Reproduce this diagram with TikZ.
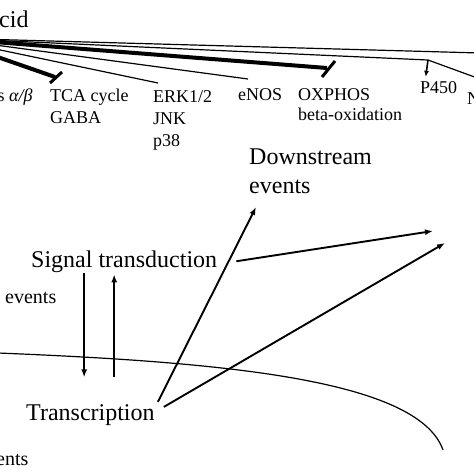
\documentclass[tikz,border=0pt]{standalone}
\usepackage{fontspec}
\setmainfont{Liberation Serif}
\usetikzlibrary{arrows.meta,calc}
\tikzset{
  lbl/.style={inner sep=0pt, anchor=base west, align=left, font=\fontsize{18}{22}\selectfont},
  big/.style={inner sep=0pt, anchor=base west, align=left, font=\fontsize{24}{29}\selectfont},
  mid/.style={inner sep=0pt, anchor=base west, font=\fontsize{20}{24}\selectfont},
  thinln/.style={line width=1.2pt},
  thickln/.style={line width=4pt},
  bar/.style={line width=3pt},
  arr/.style={line width=1.9pt, -{Latex[length=8pt,width=6pt]}},
}
\begin{document}
\begin{tikzpicture}[x=1pt,y=-1pt]
\useasboundingbox (0,0) rectangle (474,474);
\clip (0,0) rectangle (474,474);
% top row (base of a multi-line node is its last line)
\node [big] (acid) at (-1,27) {cid};
\coordinate (src) at (-57,38);
\node [lbl] (alpha) at (-2.5,101) {s {\itshape α/β}};
\node [lbl] (tca) at (50,123) {TCA cycle\\GABA};
\node [lbl] (erk) at (153,146) {ERK1/2\\JNK\\p38};
\node [lbl] (enos) at (238,100) {eNOS};
\node [lbl, font=\fontsize{18}{20}\selectfont] (ox) at (298,120) {OXPHOS\\beta-oxidation};
\node [lbl] (p450) at (420,93) {P450};
\node [lbl] (nn) at (467,104) {N};
\coordinate (topEnd) at (480,53);
\coordinate (kink) at (428,60);
\coordinate (nEnd) at (480,79);
\coordinate (oxEnd) at (327,68);
\coordinate (enosEnd) at (248,79);
\coordinate (erkEnd) at (158,83);
\coordinate (tcaEnd) at (55,77);
\draw [thinln] (src) -- (topEnd);
\draw [thinln] (src) -- (kink) -- (nEnd);
\draw [line width=1.6pt, -{Latex[length=6pt,width=5pt]}] (kink) -- ([shift={(-13,-4)}]p450.north);
\draw [thickln] (src) -- (oxEnd);
\draw [bar] ($(oxEnd)+(-5,9)$) -- ($(oxEnd)+(8,-7)$);
\draw [thinln] (src) -- (enosEnd);
\draw [thinln] (src) -- (erkEnd);
\draw [thickln] (src) -- (tcaEnd);
\draw [bar] ($(tcaEnd)+(-5,6)$) -- ($(tcaEnd)+(7,-5)$);
% lower part
\node [big] (sig) at (31,267) {Signal transduction};
\node [big] (trans) at (26,420) {Transcription};
\node [big] (down) at (249,193) {Downstream\\events};
\node [mid] (ev1) at (5,303) {events};
\node [mid] (ev2) at (-4,465) {ents};
\coordinate (dsTip) at (256,207);
\coordinate (rtTip1) at (433,231);
\coordinate (rtTip2) at (445,243);
\draw [thinln] (-2,353) .. controls (220,362) and (418,379) .. (443,450);
\draw [arr] ([shift={(-40,1)}]sig.south) -- ++(0,104);
\draw [arr] ([shift={(-10,105)}]sig.south) -- ([shift={(-10,2)}]sig.south);
\draw [arr] ([shift={(19,0)}]sig.east) -- (rtTip1);
\draw [arr] ([shift={(3,-2)}]trans.north east) -- (dsTip);
\draw [arr] ([shift={(9,3)}]trans.north east) -- (rtTip2);
\end{tikzpicture}
\end{document}
